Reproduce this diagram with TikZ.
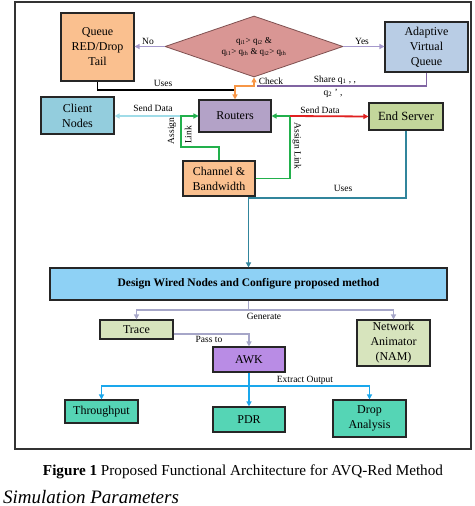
\documentclass[tikz,border=0pt]{standalone}
\usepackage{fontspec}
\setmainfont{Liberation Serif}
\usetikzlibrary{shapes.geometric,arrows.meta,calc}
\definecolor{cqueue}{HTML}{FAC08F}
\definecolor{cdiam}{HTML}{D99694}
\definecolor{cdiamb}{HTML}{7F5050}
\definecolor{cadapt}{HTML}{B9CDE5}
\definecolor{crout}{HTML}{B3A2C7}
\definecolor{cclient}{HTML}{93CDDD}
\definecolor{cserver}{HTML}{C3D69B}
\definecolor{cdesign}{HTML}{8ED1F5}
\definecolor{ctrace}{HTML}{D7E4BD}
\definecolor{cawk}{HTML}{B98CE5}
\definecolor{cres}{HTML}{55D5B5}
\definecolor{clav}{HTML}{A599CC}
\definecolor{cshare}{HTML}{8064A2}
\definecolor{ccyan}{HTML}{A0DCE8}
\definecolor{cgreen}{HTML}{22B04C}
\definecolor{cred}{HTML}{E02020}
\definecolor{corange}{HTML}{F79646}
\definecolor{cteal}{HTML}{31859C}
\definecolor{cgen}{HTML}{A6A6C8}
\definecolor{cext}{HTML}{1AA7EC}
\tikzset{
  box/.style={draw=black!85,line width=1.1pt,align=center,inner sep=1pt,
    font=\fontsize{12}{15}\selectfont},
  lbl/.style={font=\fontsize{9.5}{10}\selectfont,inner sep=0pt},
  tip/.style={-{Triangle[length=5pt,width=5pt]}},
  lavline/.style={draw=clav,line width=1.3pt,tip},
}
\begin{document}
\begin{tikzpicture}[x=1pt,y=-1pt]
\useasboundingbox (0,0) rectangle (474,506);
\fill[white] (0,0) rectangle (474,506);
\draw[black!80,line width=1.5pt] (15,2) rectangle (471,449);
% nodes
\node[box,fill=cqueue,minimum width=73pt,minimum height=68pt] (queue) at (97.5,47) {Queue\\RED/Drop\\Tail};
\node[diamond,draw=cdiamb,fill=cdiam,line width=0.8pt,minimum width=178pt,minimum height=61pt,aspect=2.9,inner sep=0pt,align=center,font=\fontsize{9}{11}\selectfont] (diam) at (254,46.5)
  {q\textsubscript{i1}> q\textsubscript{i2} \&\\q\textsubscript{i1}> q\textsubscript{th} \& q\textsubscript{i2}> q\textsubscript{th}};
\node[box,fill=cadapt,minimum width=83pt,minimum height=50pt] (adapt) at (426.5,47) {Adaptive\\Virtual\\Queue};
\node[box,fill=crout,minimum width=72pt,minimum height=32pt] (routers) at (235,116) {Routers};
\node[box,fill=cclient,minimum width=73pt,minimum height=37pt] (client) at (77.5,115.5) {Client\\Nodes};
\node[box,fill=cqueue,minimum width=72pt,minimum height=35pt] (channel) at (219,178.5) {Channel \&\\Bandwidth};
\node[box,fill=cserver,minimum width=74pt,minimum height=27pt,font=\fontsize{12.5}{15}\selectfont] (server) at (406,116.5) {End Server};
\node[box,fill=cdesign,minimum width=397pt,minimum height=32pt,font=\fontsize{11.5}{14}\selectfont\bfseries] (design) at (248.5,284) {Design Wired Nodes and Configure proposed method};
\node[box,fill=ctrace,minimum width=73pt,minimum height=19pt] (trace) at (136.5,329.5) {Trace};
\node[box,fill=ctrace,minimum width=73pt,minimum height=46pt] (nam) at (393.5,343) {Network\\Animator\\(NAM)};
\node[box,fill=cawk,minimum width=72pt,minimum height=25pt] (awk) at (249,359.5) {AWK};
\node[box,fill=cres,minimum width=73pt,minimum height=23pt] (thr) at (101.5,411.5) {Throughput};
\node[box,fill=cres,minimum width=72pt,minimum height=25pt] (pdr) at (249,419.5) {PDR};
\node[box,fill=cres,minimum width=73pt,minimum height=37pt] (drop) at (369.5,418.5) {Drop\\Analysis};
% coordinates
\coordinate (ujoin) at (235,90);
\coordinate (chk) at (235,86);
\coordinate (shend) at (257,86);
\coordinate (jl) at (181,147);
\coordinate (jr) at (290,116);
\coordinate (tj) at (248.5,198);
\coordinate (gj) at (248.5,310);
\coordinate (ej) at (249,386);
% connectors
\draw[lavline] (diam.west) -- (queue.east|-diam.west);
\draw[lavline] (diam.east) -- (adapt.west|-diam.east);
\draw[black,line width=1.3pt] (queue.south) |- (ujoin);
\draw[cshare,line width=1.3pt] (adapt.south) |- (shend);
\draw[corange,line width=1.3pt,{Triangle[length=5pt,width=5pt]}-{Triangle[length=5pt,width=5pt]}] (routers.north) -- (chk) -| (diam.south);
\draw[ccyan,line width=1.3pt,tip] (routers.west) -- (client.east|-routers.west);
\draw[cgreen,line width=1.8pt,tip] (channel.north) |- (jl) |- (routers.west);
\draw[cgreen,line width=1.8pt,tip] (channel.east) -| (jr) -- (routers.east);
\draw[cred,line width=1.8pt,tip] (jr) -- (server.west);
\draw[cteal,line width=1.8pt,tip] (server.south) |- (tj) -- (design.north);
\draw[cgen,line width=1.5pt] (design.south) -- (gj);
\draw[cgen,line width=1.5pt,tip] (gj) -| (trace.north);
\draw[cgen,line width=1.5pt,tip] (gj) -| (nam.north);
\draw[cgen,line width=1.5pt,tip] ($(trace.east)+(0,4.5)$) -| (awk.north);
\draw[cext,line width=1.8pt,tip] (awk.south) -- (pdr.north);
\draw[cext,line width=1.8pt,tip] (ej) -| (thr.north);
\draw[cext,line width=1.8pt,tip] (ej) -| (drop.north);
% labels
\node[lbl] (lno) at (148,41) {No};
\node[lbl] (lyes) at (362,41) {Yes};
\node[lbl] (luses) at (163,83) {Uses};
\node[lbl] (lcheck) at (271,81) {Check};
\node[lbl] (lshare) at (335,80) {Share q\textsubscript{1} , ,};
\node[lbl] (lshare2) at (333,93) {q\textsubscript{2} ' ,};
\node[lbl] (lsd1) at (153,108) {Send Data};
\node[lbl] (lsd2) at (320,110) {Send Data};
\node[lbl,rotate=90] (las1) at (172,131) {Assign};
\node[lbl,rotate=90] (las2) at (188,135) {Link};
\node[lbl,rotate=-90] (las3) at (297,146) {Assign Link};
\node[lbl] (luses2) at (343,188) {Uses};
\node[lbl] (lgen) at (264,316) {Generate};
\node[lbl] (lpass) at (209,339) {Pass to};
\node[lbl] (lext) at (305,380) {Extract Output};
% caption
\node[font=\fontsize{15.2}{18}\selectfont,inner sep=0pt] (cap) at (243,472) {\textbf{Figure 1} Proposed Functional Architecture for AVQ-Red Method};
\node[font=\fontsize{19}{22}\selectfont\itshape,anchor=base west,inner sep=0pt] (sim) at (3,503) {Simulation Parameters};
\end{tikzpicture}
\end{document}
